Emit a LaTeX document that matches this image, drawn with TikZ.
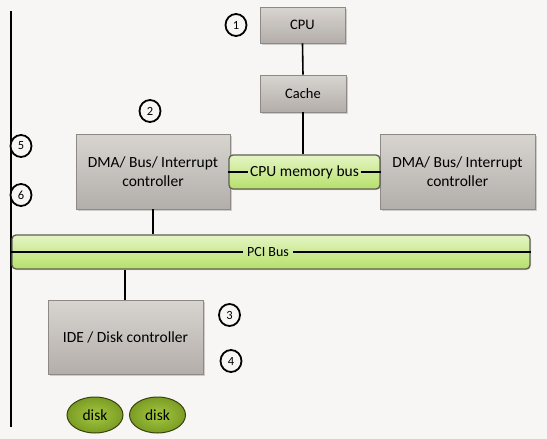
\documentclass[tikz,border=0pt]{standalone}
\usepackage{fontspec}
\setmainfont{Carlito}
\usetikzlibrary{shadows,shapes.geometric}
\definecolor{bg}{HTML}{F7F6F4}
\definecolor{boxtop}{HTML}{D8D4D0}
\definecolor{boxbot}{HTML}{B3AEAA}
\definecolor{boxline}{HTML}{8E8984}
\definecolor{bustop}{HTML}{E4F5C4}
\definecolor{busbot}{HTML}{B6E06A}
\definecolor{busline}{HTML}{5E5E55}
\definecolor{diskin}{HTML}{A4C840}
\definecolor{diskout}{HTML}{7B9C24}
\definecolor{diskline}{HTML}{36430E}
\tikzset{
  graybox/.style={rectangle, draw=boxline, line width=0.6pt, top color=boxtop, bottom color=boxbot,
    drop shadow={opacity=0.35, shadow xshift=1.5pt, shadow yshift=-1.5pt}, align=center, inner sep=0pt},
  busbox/.style={rectangle, rounded corners=4pt, draw=busline, line width=1.3pt, top color=bustop, bottom color=busbot,
    drop shadow={opacity=0.3, shadow xshift=1pt, shadow yshift=-1pt}, inner sep=0pt},
  diskshape/.style={ellipse, draw=diskline, line width=1pt, inner color=diskin, outer color=diskout,
    minimum width=56pt, minimum height=36pt, inner sep=0pt, font=\fontsize{15.5}{18}\selectfont},
  numcirc/.style={ellipse, draw=black, line width=1.8pt, fill=bg, minimum width=21pt, minimum height=22pt, inner sep=0pt,
    font=\fontsize{12.5}{14}\selectfont},
  conn/.style={draw=black, line width=1.6pt},
  bigtext/.style={font=\fontsize{15.5}{19}\selectfont},
  smalltext/.style={font=\fontsize{14.5}{17}\selectfont},
  pcitext/.style={font=\fontsize{14}{17}\selectfont}
}
\begin{document}
\begin{tikzpicture}[x=1pt,y=-1pt]
\useasboundingbox[fill=bg] (0,0) rectangle (547,439);
% left vertical line
\coordinate (vtop) at (11,11);
\coordinate (vbot) at (11,427);
\draw[conn] (vtop) -- (vbot);
% boxes
\node[graybox, smalltext, minimum width=85pt, minimum height=36pt] (cpu) at (302.5,25) {CPU};
\node[graybox, smalltext, minimum width=86pt, minimum height=37pt] (cache) at (303,93.5) {Cache};
\node[graybox, bigtext, minimum width=154pt, minimum height=75pt] (dmal) at (153,171.5) {DMA/ Bus/ Interrupt\\controller};
\node[graybox, bigtext, minimum width=155pt, minimum height=75pt] (dmar) at (457.5,171.5) {DMA/ Bus/ Interrupt\\controller};
\node[busbox, minimum width=151pt, minimum height=34pt] (cpubus) at (304.5,172) {};
\node[bigtext, inner sep=1.5pt] (cpubust) at (304.5,172) {CPU memory bus};
\node[busbox, minimum width=518pt, minimum height=34pt] (pci) at (271,252) {};
\node[pcitext, inner sep=4pt] (pcit) at (268,252) {PCI Bus};
\node[graybox, bigtext, minimum width=155pt, minimum height=74pt] (ide) at (125.5,337) {IDE / Disk controller};
\node[diskshape] (disk1) at (95,415) {disk};
\node[diskshape] (disk2) at (157.5,415) {disk};
% connectors
\draw[conn] (cpu.south) -- (cache.north);
\draw[conn] (cache.south) -- (cpubus.north -| cache.south);
\draw[conn] (cpubus.west) -- (cpubust.west);
\draw[conn] (cpubust.east) -- (cpubus.east);
\draw[conn] (pci.west) -- (pcit.west);
\draw[conn] (pcit.east) -- (pci.east);
\draw[conn] (dmal.south) -- (dmal.south |- pci.north);
\coordinate (idetop) at (125,300);
\draw[conn] (pci.south -| idetop) -- (ide.north -| idetop);
% numbered circles
\node[numcirc] (n1) at (236,25) {1};
\node[numcirc] (n2) at (150,111) {2};
\node[numcirc] (n5) at (21,146) {5};
\node[numcirc] (n6) at (21,195) {6};
\node[numcirc] (n3) at (229.5,315) {3};
\node[numcirc] (n4) at (231,361) {4};
\end{tikzpicture}
\end{document}
